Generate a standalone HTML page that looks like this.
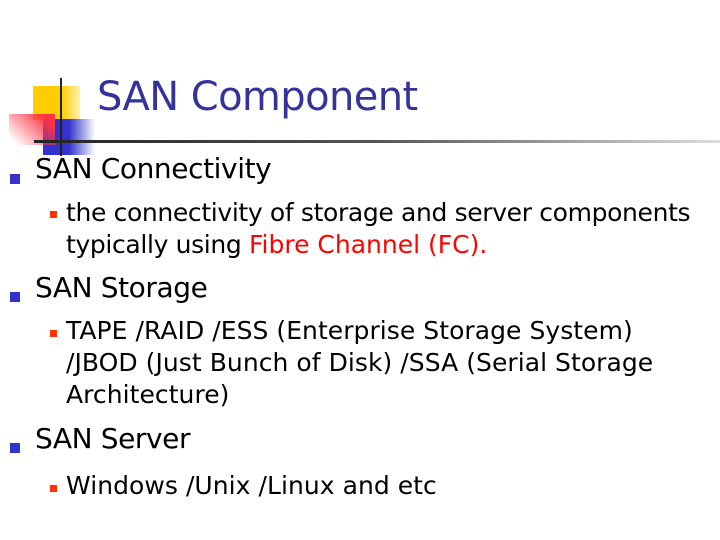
<!DOCTYPE html>
<html><head><style>
body{margin:0;width:720px;height:540px;background:#fff;position:relative;overflow:hidden;font-family:"DejaVu Sans","Liberation Sans",sans-serif}
.a{position:absolute;white-space:nowrap}
.t{color:#333399;font-size:40px;left:97px;top:74px;letter-spacing:-0.6px}
.l1{font-size:28px;color:#000;left:35px;letter-spacing:-0.4px}
.l2{font-size:25px;color:#000;left:66px;line-height:32px;letter-spacing:-0.35px}
.b1{width:10px;height:10px;background:#3333cc;left:10px}
.b2{width:7px;height:7px;background:#ff3300;left:50px}
</style></head><body>
<div class="a" style="left:33px;top:86px;width:47px;height:34px;background:linear-gradient(90deg,#ffcc00 60%,#fff0b0)"></div>
<div class="a" style="left:43px;top:119px;width:52px;height:36px;background:linear-gradient(90deg,#3333cc 50%,rgba(255,255,255,0))"></div>
<div class="a" style="left:9px;top:114px;width:46px;height:31px;background:linear-gradient(45deg,rgba(255,255,255,0) 10%,#ff3344 85%)"></div>
<div class="a" style="left:60px;top:78px;width:2px;height:78px;background:#222"></div>
<div class="a" style="left:34px;top:140px;width:686px;height:3px;background:linear-gradient(90deg,#222,#555 50%,#ddd)"></div>
<div class="a t">SAN Component</div>
<div class="a b1" style="top:174px"></div><div class="a l1" style="top:152px">SAN Connectivity</div>
<div class="a b2" style="top:211px"></div><div class="a l2" style="top:197px">the connectivity of storage and server components<br>typically using <span style="color:#ff0000;letter-spacing:0px">Fibre Channel (FC).</span></div>
<div class="a b1" style="top:292px"></div><div class="a l1" style="top:271px">SAN Storage</div>
<div class="a b2" style="top:330px"></div><div class="a l2" style="top:315px;letter-spacing:0.05px">TAPE /RAID /ESS (Enterprise Storage System)<br>/JBOD (Just Bunch of Disk) /SSA (Serial Storage<br>Architecture)</div>
<div class="a b1" style="top:443px"></div><div class="a l1" style="top:422px">SAN Server</div>
<div class="a b2" style="top:485px"></div><div class="a l2" style="top:470px;letter-spacing:0.05px">Windows /Unix /Linux and etc</div>
</body></html>
